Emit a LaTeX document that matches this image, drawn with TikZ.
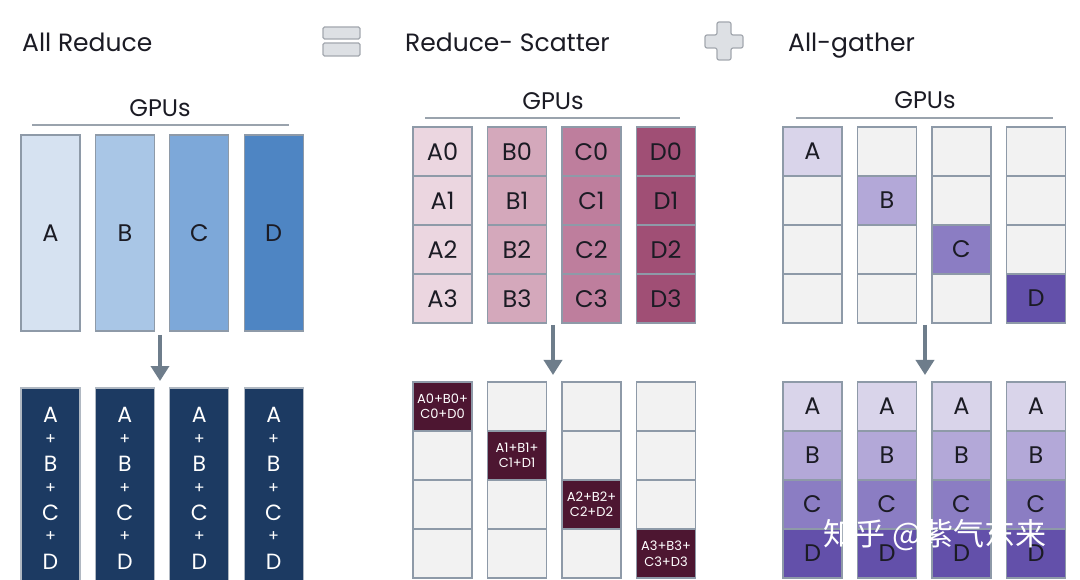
\documentclass[tikz,border=0pt]{standalone}
\usepackage{fontspec}
\setmainfont{Poppins}
\newfontfamily\cjkfont{Noto Sans CJK SC}
\usepackage{tikz}
\usetikzlibrary{positioning,arrows.meta,calc}

\definecolor{txt}{HTML}{1B1B24}
\definecolor{rule}{HTML}{9AA3AD}
\definecolor{colline}{HTML}{8E9AA8}
\definecolor{arrowc}{HTML}{6E7D8B}
\definecolor{iconfill}{HTML}{DDE0E4}
\definecolor{iconline}{HTML}{A3A8AF}
% blues (all reduce)
\definecolor{bA}{HTML}{D6E2F1}
\definecolor{bB}{HTML}{A9C6E6}
\definecolor{bC}{HTML}{7DA8D9}
\definecolor{bD}{HTML}{4E85C3}
\definecolor{navy}{HTML}{1C3A62}
% pinks (reduce-scatter)
\definecolor{mA}{HTML}{EBD6E0}
\definecolor{mB}{HTML}{D4A8BB}
\definecolor{mC}{HTML}{BE7E9D}
\definecolor{mD}{HTML}{A04F75}
\definecolor{sumc}{HTML}{4D1631}
\definecolor{emptyc}{HTML}{F2F2F2}
% purples (all-gather)
\definecolor{gA}{HTML}{D9D4EA}
\definecolor{gB}{HTML}{B3A8D8}
\definecolor{gC}{HTML}{8B7DC3}
\definecolor{gD}{HTML}{6350AA}

\begin{document}
\begin{tikzpicture}[x=1pt,y=-1pt,
    title/.style={font=\fontsize{25}{25}\selectfont, text=txt, anchor=base west, inner sep=0pt},
    gpus/.style={font=\fontsize{24}{24}\selectfont, text=txt, anchor=base, inner sep=0pt},
    col/.style={draw=colline, line width=1.2pt, minimum width=59pt, inner sep=0pt, text=txt},
    cell/.style={col, minimum height=49pt, font=\fontsize{24}{24}\selectfont},
    down/.style={draw=arrowc, line width=3.5pt, -{Triangle[width=18pt,length=15pt]}},
    wm/.style={font=\cjkfont\fontsize{31}{31}\selectfont, inner sep=0pt}]

\fill[white] (0,0) rectangle (1080,580);
\useasboundingbox (0,0) rectangle (1080,580);

% Titles
\node[title] (tar) at (22,52) {All Reduce};
\node[title] (trs) at (405,52) {Reduce- Scatter};
\node[title] (tag) at (788,52) {All-gather};

% = and + icons
\draw[fill=iconfill, draw=iconline, line width=1.2pt, rounded corners=1.5pt] (323,27) rectangle (360,39);
\draw[fill=iconfill, draw=iconline, line width=1.2pt, rounded corners=1.5pt] (323,43) rectangle (360,56);
\draw[fill=iconfill, draw=iconline, line width=1.2pt, rounded corners=2pt]
  (717,22) -- (731,22) -- (731,35) -- (743,35) -- (743,48) -- (731,48) -- (731,60)
  -- (717,60) -- (717,48) -- (705,48) -- (705,35) -- (717,35) -- cycle;

% GPUs headers
\node[gpus] (g1) at (160,117) {GPUs};
\node[gpus] (g2) at (553,110) {GPUs};
\node[gpus] (g3) at (925,109) {GPUs};
\draw[rule, line width=1.5pt] (32,125) -- (289,125);
\draw[rule, line width=1.5pt] (425,118) -- (680,118);
\draw[rule, line width=1.5pt] (796,118) -- (1053,118);

% All reduce: inputs
\foreach \c/\fc [count=\i from 0] in {A/bA,B/bB,C/bC,D/bD}
    \node[col, fill=\fc, minimum height=196pt, font=\fontsize{24}{24}\selectfont]
        (ar\c) at ({50.5+74.4*\i},233) {\c};

% All reduce: outputs
\foreach \i in {0,...,3}{
    \node[col, fill=navy, draw=colline!70, minimum height=194pt] (as\i) at ({50.5+74.4*\i},485) {};
    \foreach \t/\fs [count=\k from 0] in {A/22,+/16,B/22,+/16,C/22,+/16,D/22}
        \node[text=white, font=\fontsize{\fs}{\fs}\selectfont, inner sep=0pt]
            (as\i\k) at ({50.5+74.4*\i},{415+24.4*\k}) {\t};
}

% Reduce-scatter: inputs
\foreach \c/\fc [count=\i from 0] in {A/mA,B/mB,C/mC,D/mD}
    \foreach \r in {0,...,3}
        \node[cell, fill=\fc] (rs\c\r) at ({442.5+74.5*\i},{151.5+49*\r}) {\c\r};

% Reduce-scatter: outputs
\foreach \i in {0,...,3}{
    \foreach \r in {0,...,3}{
        \ifnum\i=\r
            \node[cell, fill=sumc, text=white, align=center,
                font=\fontsize{13}{15.5}\selectfont]
                (ro\i\r) at ({442.5+74.5*\i},{406.5+49*\r}) {A\r+B\r+\\C\r+D\r};
        \else
            \node[cell, fill=emptyc] (ro\i\r) at ({442.5+74.5*\i},{406.5+49*\r}) {};
        \fi
    }
}

% All-gather: inputs
\foreach \c/\fc [count=\i from 0] in {A/gA,B/gB,C/gC,D/gD}{
    \foreach \r in {0,...,3}{
        \ifnum\i=\r
            \node[cell, fill=\fc] (ag\i\r) at ({812.5+74.5*\i},{151.5+49*\r}) {\c};
        \else
            \node[cell, fill=emptyc] (ag\i\r) at ({812.5+74.5*\i},{151.5+49*\r}) {};
        \fi
    }
}

% All-gather: outputs
\foreach \i in {0,...,3}
    \foreach \c/\fc [count=\r from 0] in {A/gA,B/gB,C/gC,D/gD}
        \node[cell, fill=\fc] (go\i\r) at ({812.5+74.5*\i},{406.5+49*\r}) {\c};

% Arrows
\coordinate (a1s) at (160,335);
\coordinate (a1e) at (160,381);
\coordinate (a2s) at (553,325);
\coordinate (a2e) at (553,375);
\coordinate (a3s) at (925,325);
\coordinate (a3e) at (925,375);
\draw[down] (a1s) -- (a1e);
\draw[down] (a2s) -- (a2e);
\draw[down] (a3s) -- (a3e);

% Watermark
\node[wm, text=white] (wm) at (935,535) {知乎 @紫气东来};
\end{tikzpicture}
\end{document}
